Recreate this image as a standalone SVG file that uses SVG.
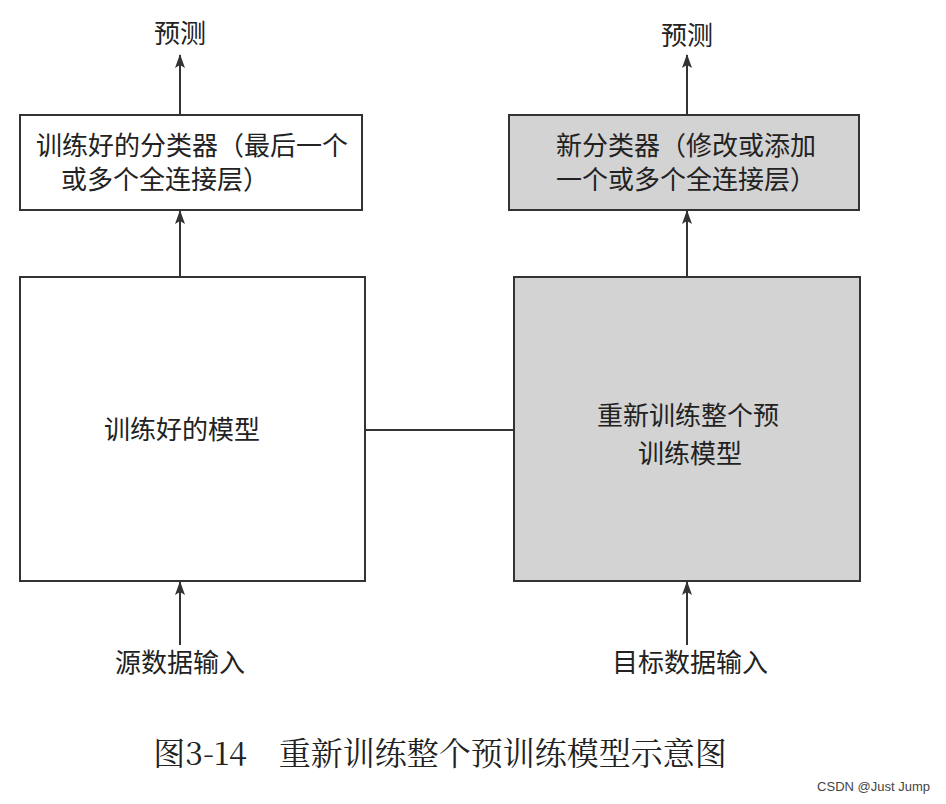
<svg xmlns="http://www.w3.org/2000/svg" width="946" height="804" viewBox="0 0 946 804">
<defs>
<marker id="ah" markerWidth="14" markerHeight="10" refX="13" refY="5" orient="auto" markerUnits="userSpaceOnUse" viewBox="0 0 14 10"><path d="M14 5 L0 0 L3 5 L0 10 Z" fill="#333"/></marker>
</defs>
<style>
.b{stroke:#333;stroke-width:2}
.w{fill:#fff}
.g{fill:#d3d3d3}
.t{font-family:"Noto Sans CJK SC","Noto Sans",sans-serif;font-size:26px;fill:#222;text-anchor:middle}
.l{stroke:#333;stroke-width:2;fill:none}
</style>
<rect width="946" height="804" fill="#fff"/>
<g id="connectors">
<line class="l" x1="180" y1="277" x2="180" y2="211" marker-end="url(#ah)"/>
<line class="l" x1="180" y1="115" x2="180" y2="55" marker-end="url(#ah)"/>
<line class="l" x1="180" y1="645" x2="180" y2="582" marker-end="url(#ah)"/>
<line class="l" x1="687" y1="277" x2="687" y2="211" marker-end="url(#ah)"/>
<line class="l" x1="687" y1="115" x2="687" y2="55" marker-end="url(#ah)"/>
<line class="l" x1="687" y1="645" x2="687" y2="582" marker-end="url(#ah)"/>
<line class="l" x1="365" y1="430" x2="514" y2="430"/>
</g>
<g id="pred-left"><text class="t" x="180" y="43">预测</text></g>
<g id="pred-right"><text class="t" x="687" y="45">预测</text></g>
<g id="cls-left"><rect class="b w" x="20" y="115" width="342" height="95"/>
<text class="t" x="192" y="155">训练好的分类器（最后一个</text><text class="t" x="165" y="189">或多个全连接层）</text></g>
<g id="cls-right"><rect class="b g" x="509" y="115" width="350" height="95"/>
<text class="t" x="686" y="155">新分类器（修改或添加</text><text class="t" x="686" y="189">一个或多个全连接层）</text></g>
<g id="model-left"><rect class="b w" x="20" y="277" width="345" height="304"/>
<text class="t" x="182" y="439">训练好的模型</text></g>
<g id="model-right"><rect class="b g" x="514" y="277" width="346" height="304"/>
<text class="t" x="688" y="425">重新训练整个预</text><text class="t" x="690" y="463">训练模型</text></g>
<g id="in-left"><text class="t" x="180" y="672">源数据输入</text></g>
<g id="in-right"><text class="t" x="690" y="672">目标数据输入</text></g>
<text x="440" y="765" font-family="'Noto Serif CJK SC','Liberation Serif','Noto Sans CJK SC',serif" font-size="32" fill="#222" text-anchor="middle">图3-14　重新训练整个预训练模型示意图</text>
<text x="930" y="791" font-family="'Liberation Sans',sans-serif" font-size="13" fill="#444" text-anchor="end">CSDN @Just Jump</text>
</svg>
